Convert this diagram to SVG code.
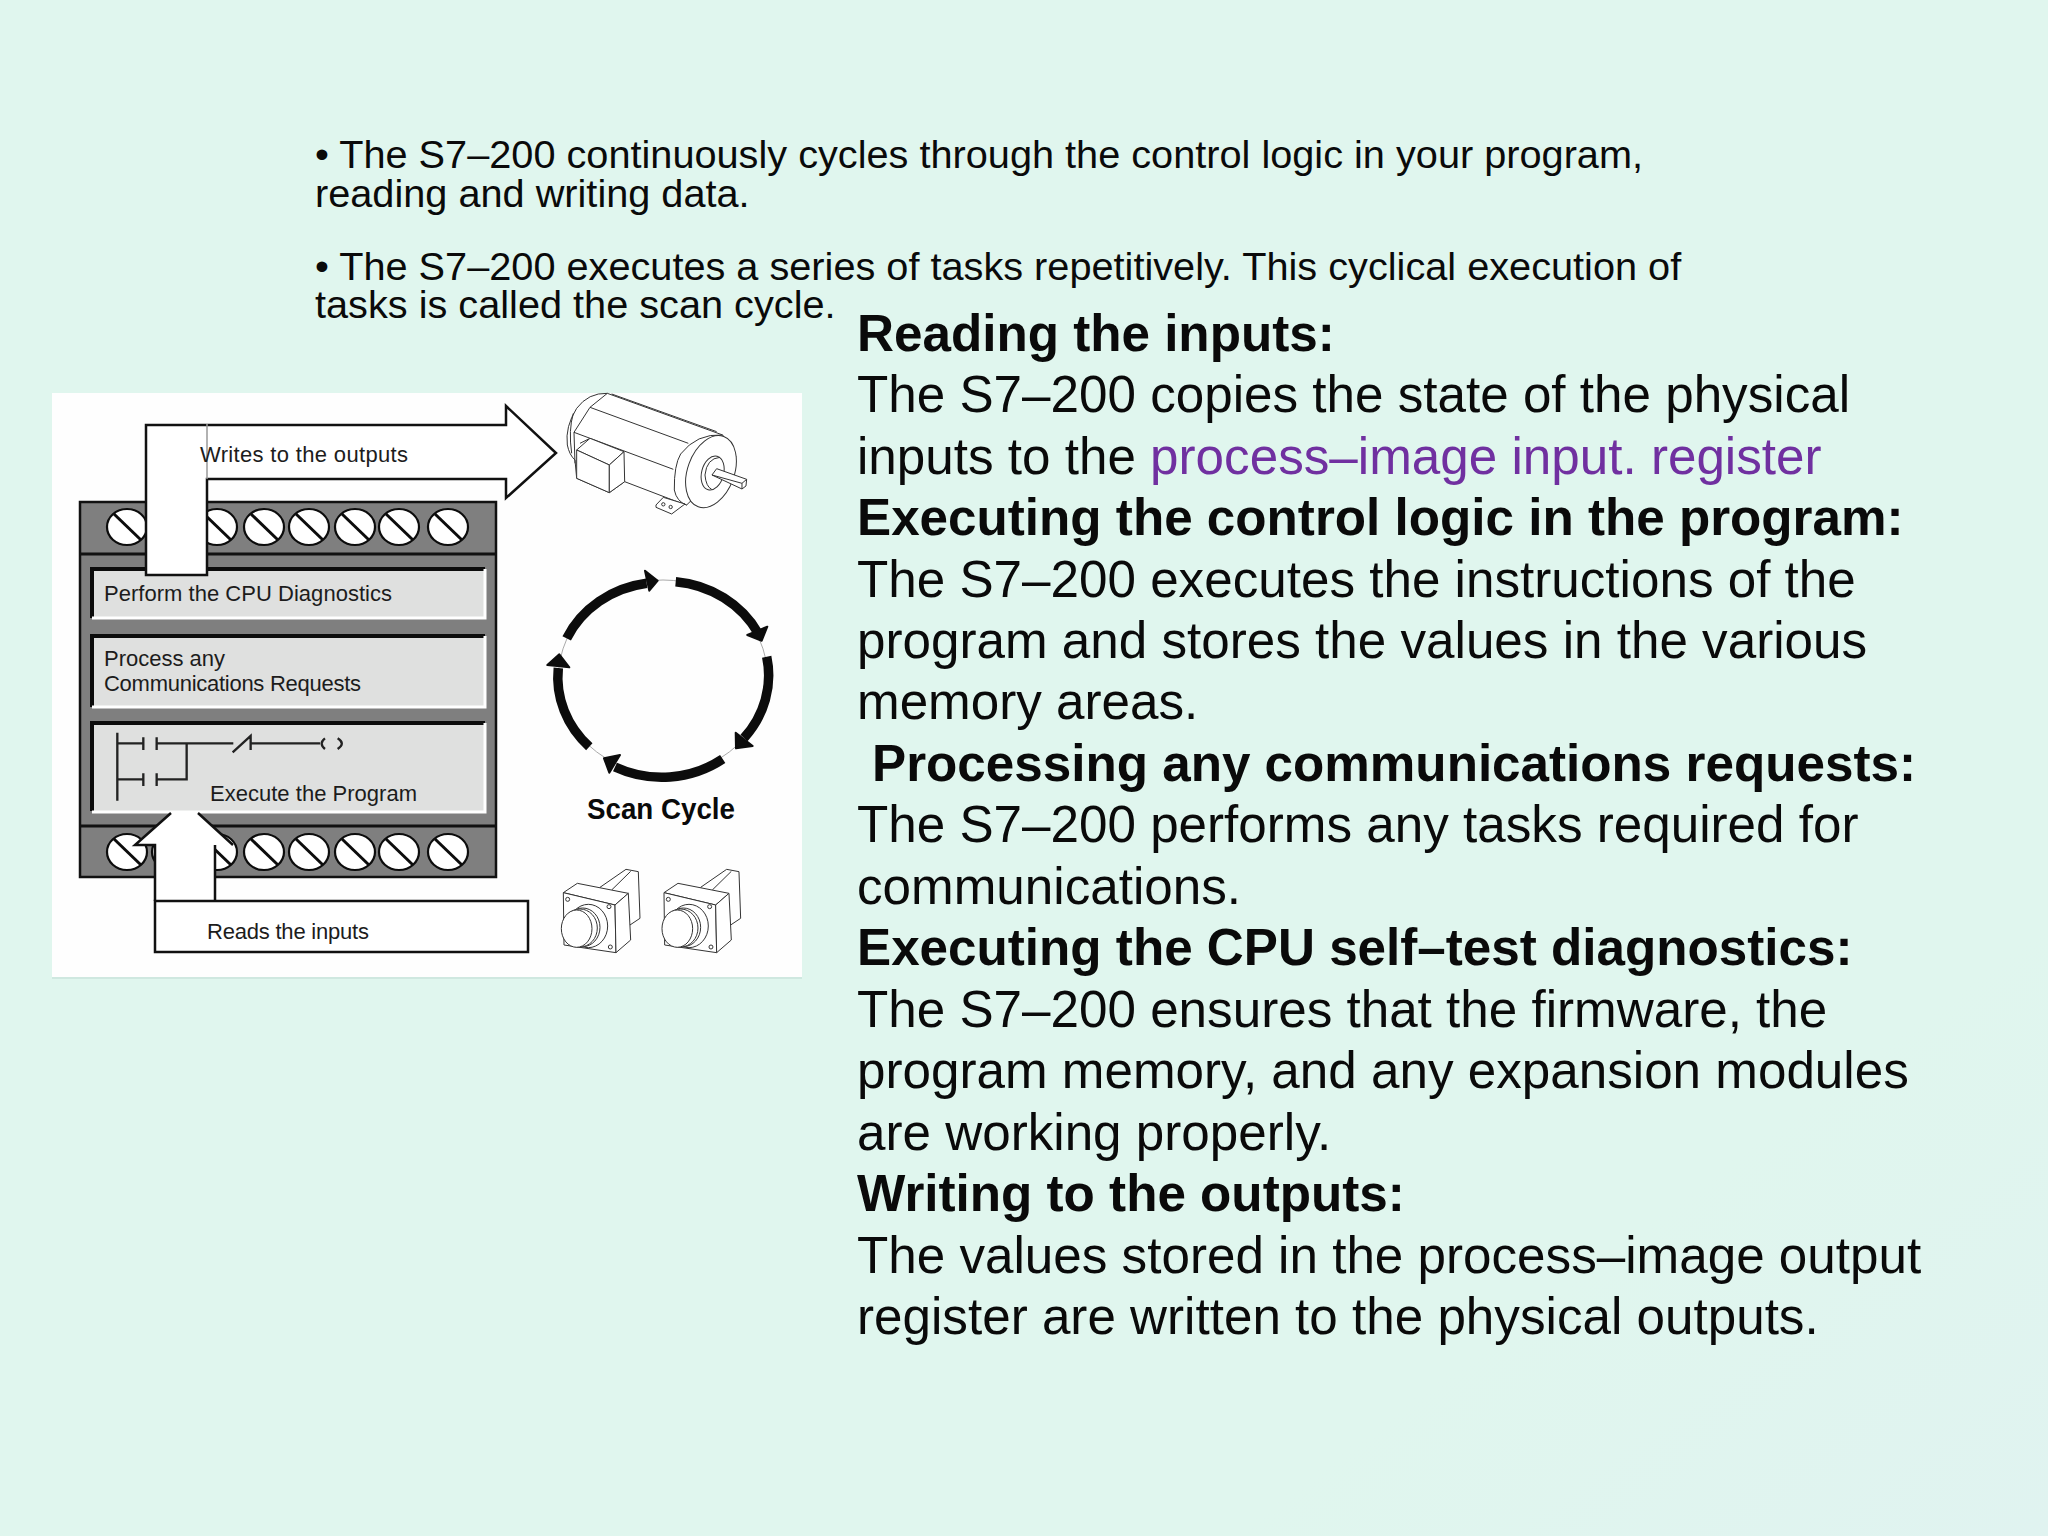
<svg xmlns="http://www.w3.org/2000/svg" xmlns:xlink="http://www.w3.org/1999/xlink" width="2048" height="1536" viewBox="0 0 2048 1536">
<style>
text{font-family:"Liberation Sans",Arial,sans-serif;fill:#0a0a0a}
.top{font-size:39.7px}
.r{font-size:51.2px}
.b{font-weight:bold}
.lab{font-size:22px;fill:#1c1c1c}
.thin{fill:none;stroke:#333;stroke-width:3}
.thinw{fill:#fff;stroke:#333;stroke-width:3}
.ring{fill:none;stroke:#0c0c0c;stroke-width:9.5}
.head{fill:#0c0c0c;stroke:#0c0c0c;stroke-width:2;stroke-linejoin:round}
.scr{fill:#fff;stroke:#0c0c0c;stroke-width:2.2}
.scl{stroke:#0c0c0c;stroke-width:3}
.win{fill:#dfe0df}
.shad{fill:none;stroke:#0c0c0c;stroke-width:4}
.hi{fill:none;stroke:#fff;stroke-width:3}
.lad{fill:none;stroke:#222;stroke-width:7}
</style>
<defs>
<linearGradient id="bg" x1="0" y1="0" x2="1" y2="1"><stop offset="0" stop-color="#e0f6ee"/><stop offset="0.8" stop-color="#e0f6ee"/><stop offset="1" stop-color="#e0f3f0"/></linearGradient>
<g id="screw"><ellipse class="scr" rx="20" ry="18"/><path class="scl" d="M-13,-13 L14,13"/></g>
<g id="button">
<path class="thinw" d="M180,112 L258,58 L295,65 L300,205 L270,225 Z"/>
<path class="thin" d="M215,120 L272,64"/>
<path class="thinw" d="M70,128 L112,100 L265,130 L225,165 Z"/>
<path class="thinw" d="M70,128 L225,165 L228,308 L72,285 Z"/>
<path class="thinw" d="M265,130 L272,270 L228,308 L225,165 Z"/>
<circle class="thinw" cx="83" cy="148" r="6"/><circle class="thinw" cx="207" cy="170" r="6"/><circle class="thinw" cx="211" cy="291" r="6"/>
<ellipse class="thinw" cx="145" cy="228" rx="58" ry="65"/>
<ellipse class="thinw" cx="128" cy="232" rx="52" ry="58"/>
<ellipse class="thinw" cx="120" cy="234" rx="52" ry="57"/>
<ellipse class="thinw" cx="110" cy="236" rx="46" ry="56"/>
</g>
</defs>
<rect id="background" width="2048" height="1536" fill="url(#bg)"/>
<g id="panel"><rect x="52" y="393" width="750" height="584" fill="#fefefe"/><rect x="52" y="977" width="750" height="2" fill="#cfe8e0"/></g>

<g id="intro">
<text class="top" x="315" y="168">• The S7–200 continuously cycles through the control logic in your program,</text>
<text class="top" x="315" y="207">reading and writing data.</text>
<text class="top" x="315" y="280">• The S7–200 executes a series of tasks repetitively. This cyclical execution of</text>
<text class="top" x="315" y="318">tasks is called the scan cycle.</text>
</g>

<g id="description">
<text class="r b" x="857" y="351">Reading the inputs:</text>
<text class="r" x="857" y="412">The S7–200 copies the state of the physical</text>
<text class="r" x="857" y="474">inputs to the <tspan fill="#7030a0">process–image input. register</tspan></text>
<text class="r b" x="857" y="535">Executing the control logic in the program:</text>
<text class="r" x="857" y="597">The S7–200 executes the instructions of the</text>
<text class="r" x="857" y="658">program and stores the values in the various</text>
<text class="r" x="857" y="719">memory areas.</text>
<text class="r b" x="872" y="781">Processing any communications requests:</text>
<text class="r" x="857" y="842">The S7–200 performs any tasks required for</text>
<text class="r" x="857" y="904">communications.</text>
<text class="r b" x="857" y="965">Executing the CPU self–test diagnostics:</text>
<text class="r" x="857" y="1027">The S7–200 ensures that the firmware, the</text>
<text class="r" x="857" y="1088">program memory, and any expansion modules</text>
<text class="r" x="857" y="1150">are working properly.</text>
<text class="r b" x="857" y="1211">Writing to the outputs:</text>
<text class="r" x="857" y="1273">The values stored in the process–image output</text>
<text class="r" x="857" y="1334">register are written to the physical outputs.</text>
</g>

<g id="plc">
<rect x="80" y="502" width="416" height="375" fill="#7f7f7f" stroke="#111" stroke-width="2.5"/>
<path d="M80,554 H496 M80,826 H496" stroke="#111" stroke-width="3"/>
<use xlink:href="#screw" x="127" y="527"/><use xlink:href="#screw" x="172" y="527"/><use xlink:href="#screw" x="217" y="527"/><use xlink:href="#screw" x="264" y="527"/><use xlink:href="#screw" x="309" y="527"/><use xlink:href="#screw" x="355" y="527"/><use xlink:href="#screw" x="399" y="527"/><use xlink:href="#screw" x="448" y="527"/>
<use xlink:href="#screw" x="127" y="852"/><use xlink:href="#screw" x="172" y="852"/><use xlink:href="#screw" x="217" y="852"/><use xlink:href="#screw" x="264" y="852"/><use xlink:href="#screw" x="309" y="852"/><use xlink:href="#screw" x="355" y="852"/><use xlink:href="#screw" x="399" y="852"/><use xlink:href="#screw" x="448" y="852"/>
</g>

<g id="diagnostics">
<rect class="win" x="92" y="569" width="393" height="49"/>
<path class="shad" d="M92,618 V569 H485"/><path class="hi" d="M92,618 H485 V569"/>
<text class="lab" x="104" y="601" textLength="288">Perform the CPU Diagnostics</text>
</g>
<g id="communications">
<rect class="win" x="92" y="636" width="393" height="71"/>
<path class="shad" d="M92,707 V636 H485"/><path class="hi" d="M92,707 H485 V636"/>
<text class="lab" x="104" y="666" textLength="121">Process any</text>
<text class="lab" x="104" y="691" textLength="257">Communications Requests</text>
</g>
<g id="program">
<rect class="win" x="92" y="723" width="393" height="89"/>
<path class="shad" d="M92,811 V723 H485"/><path class="hi" d="M92,812 H485 V723"/>
<g transform="translate(40 680) scale(.3333)"><path class="lad" d="M232,158 V362 M232,190 H310 M310,172 V210 M350,172 V210 M350,190 H580 M440,190 V298 H350 M350,280 V318 M310,280 V318 M232,298 H310 M578,217 L632,168 V210 M632,190 H840 M855,175 Q835,190 855,207 M893,175 Q918,190 893,207"/></g>
<text class="lab" x="210" y="801" textLength="207">Execute the Program</text>
</g>

<g id="connectors">
<g id="writes-arrow">
<path d="M146,425 H506 V406 L556,453 L506,498 V479 H207 V575 H146 Z" fill="#fff" stroke="#111" stroke-width="2.5"/>
<path d="M207,424 V479" stroke="#999" stroke-width="1.5"/>
<text class="lab" x="200" y="462" textLength="208">Writes to the outputs</text>
</g>
<g id="reads-arrow">
<path d="M155,901 V845 H135 L171,813 H198 L233,845 H215 V901" fill="#fff"/>
<path d="M155,901 V845 H135 L171,813 M198,813 L233,845 M215,845 V901" fill="none" stroke="#111" stroke-width="2.5"/>
<rect x="155" y="901" width="373" height="51" fill="#fff" stroke="#111" stroke-width="2.5"/>
<text class="lab" x="207" y="939" textLength="162">Reads the inputs</text>
</g>
</g>

<g id="motor" transform="translate(530 380) scale(.3333)">
<path class="thinw" d="M232,40 Q175,38 140,85 Q105,140 112,195 Q118,225 135,240 L140,295 L238,338 L284,305 L433,362 L470,375 L618,230 L578,165 Z"/>
<path class="thin" d="M130,100 Q115,150 125,220"/>
<path class="thin" d="M232,40 L180,82 L132,157 L135,250 M180,82 L475,190 M245,42 L560,155 M132,157 L430,268 M150,190 L180,175"/>
<path class="thin" d="M578,165 Q500,160 452,222 Q432,255 433,330 Q440,365 470,375"/>
<path class="thinw" d="M140,210 L180,175 L282,215 L238,255 Z"/>
<path class="thinw" d="M140,210 L238,255 L238,338 L140,295 Z"/>
<path class="thinw" d="M282,215 L284,305 L238,338 L238,255 Z"/>
<path class="thinw" d="M378,375 L400,352 L465,372 L425,402 L378,382 Z"/>
<circle class="thin" cx="400" cy="373" r="5"/><circle class="thin" cx="422" cy="381" r="5"/>
<ellipse class="thinw" cx="543" cy="275" rx="70" ry="112" transform="rotate(20 543 275)"/>
<ellipse class="thinw" cx="548" cy="279" rx="33" ry="52" transform="rotate(15 548 279)"/>
<path class="thin" d="M570,232 Q530,235 525,285 Q528,320 545,328"/>
<path class="thinw" d="M546,285 L560,266 L650,298 L648,318 L636,327 Z"/>
<path class="thin" d="M546,285 L636,310 L650,298 M636,310 V327"/>
</g>

<g id="scan-cycle">
<ellipse cx="663" cy="677" rx="104.5" ry="97" fill="none" stroke="#aaa" stroke-width="1"/>
<path class="ring" d="M675.7,581.7 A104.5,97 0 0 1 758,633"/><path class="head" d="M767.3,626.7 L747.3,635 L761.7,640.7 Z"/>
<path class="ring" d="M766.7,656.7 A104.5,97 0 0 1 744,738"/><path class="head" d="M735.7,732.7 L752.7,746 L736,748.3 Z"/>
<path class="ring" d="M722.7,759 A104.5,97 0 0 1 615,767"/><path class="head" d="M620,755 L604,758.3 L609.3,772.7 Z"/>
<path class="ring" d="M589.3,746.7 A104.5,97 0 0 1 558.3,668"/><path class="head" d="M547.3,665 L569.3,667.3 L559.3,654.3 Z"/>
<path class="ring" d="M566.7,638.3 A104.5,97 0 0 1 646.7,583.3"/><path class="head" d="M645,570.7 L649.3,590.7 L657.7,580.7 Z"/>
<text x="587" y="819" font-size="29" font-weight="bold" textLength="148" lengthAdjust="spacingAndGlyphs">Scan Cycle</text>
</g>

<g id="inputs" transform="translate(540 850) scale(.3333)">
<use xlink:href="#button"/>
<use xlink:href="#button" x="302"/>
</g>
</svg>
